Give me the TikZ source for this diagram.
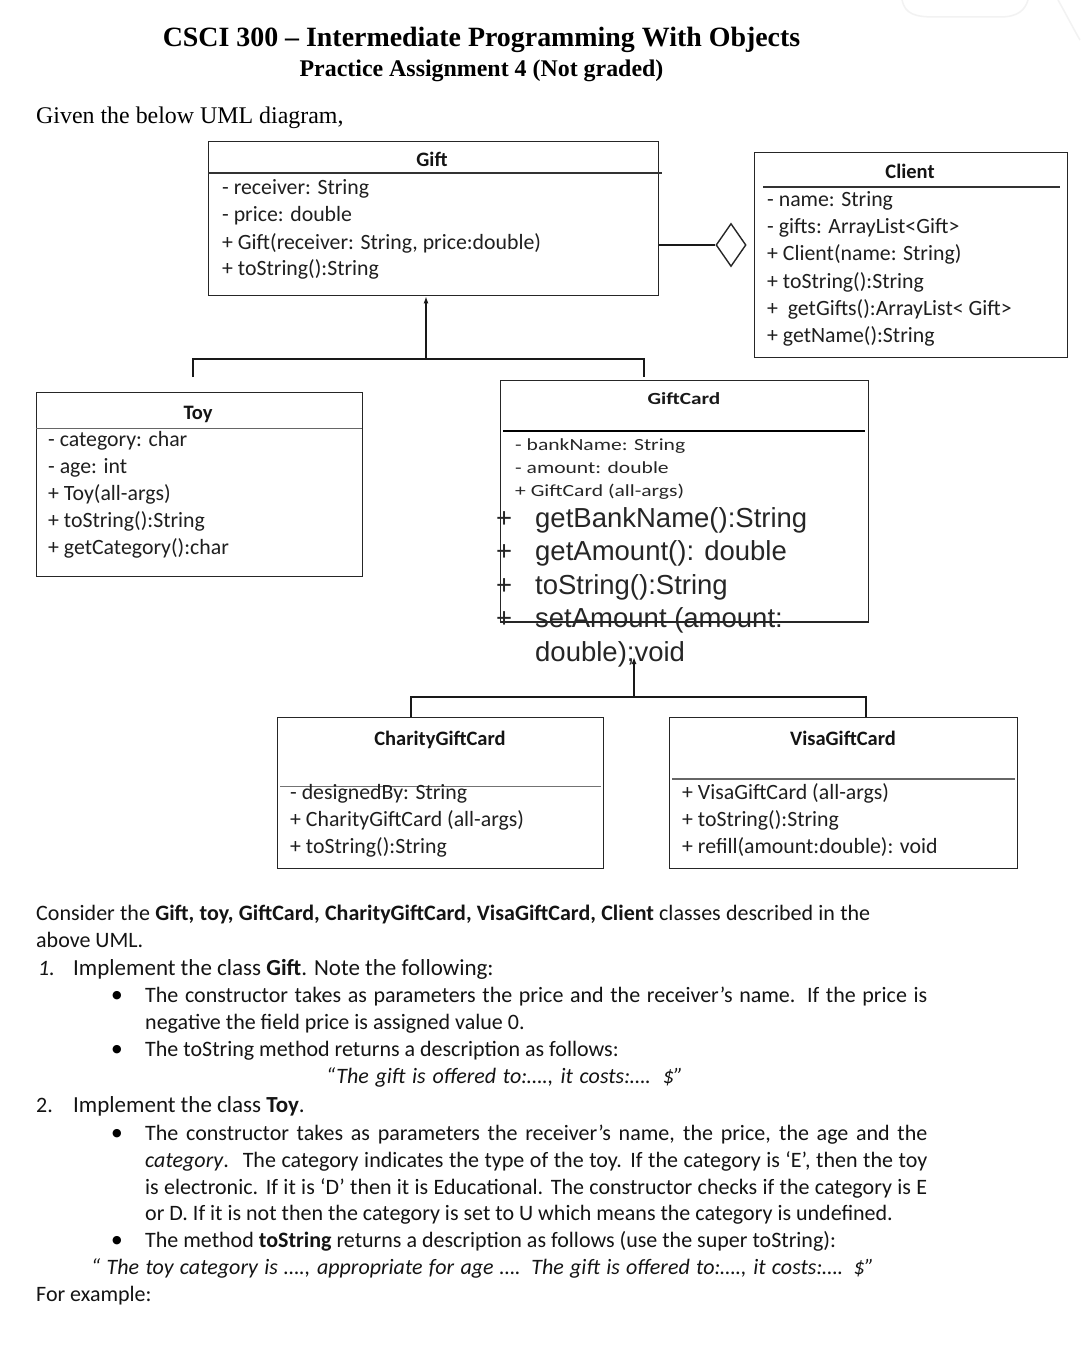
\documentclass[tikz,border=0pt]{standalone}
\usepackage{fontspec}
\setmainfont{Carlito}
\newfontfamily\timesf{Liberation Serif}
\newfontfamily\arialf{Liberation Sans}
\newfontfamily\calf{Carlito}
\newfontfamily\dejaf{DejaVu Sans}
\usetikzlibrary{arrows.meta,shapes.geometric}
\begin{document}
\begin{tikzpicture}[x=1pt,y=-1pt,
  umlbox/.style={draw=black!85, line width=1.4pt, inner sep=0pt, anchor=north west},
  sep/.style={draw=black!80, line width=1.1pt},
  conn/.style={draw=black!90, line width=1.5pt},
  inh/.style={draw=black!90, line width=1.5pt, -{Latex[length=7pt,width=5pt]}},
  ut/.style={anchor=base west, inner sep=0pt, text=black!88, font=\calf\fontsize{21.8}{26}\selectfont},
  uh/.style={anchor=base, inner sep=0pt, text=black!92, font=\calf\bfseries\fontsize{20.5}{24}\selectfont},
  us/.style={anchor=base west, inner sep=0pt, text=black!85, font=\calf\fontsize{17}{20}\selectfont},
  ua/.style={anchor=base west, inner sep=0pt, text=black!85, font=\arialf\fontsize{27.5}{32}\selectfont},
  bt/.style={anchor=base west, inner sep=0pt, text=black!92, font=\calf\fontsize{22}{26}\selectfont},
  btl/.style={bt, font=\calf\fontsize{23}{27}\selectfont},
  bul/.style={anchor=center, inner sep=0pt, font=\dejaf\fontsize{11}{12}\selectfont}
]
\fill[white] (0,0) rectangle (1080,1364);
\useasboundingbox (0,0) rectangle (1080,1364);
% faint corner artefact
\draw[black!5, line width=1.5pt] (902,0) .. controls (905,14) and (915,17) .. (935,17) -- (1000,17) .. controls (1018,17) and (1025,10) .. (1028,0);
\draw[black!5, line width=1.5pt] (1058,0) .. controls (1066,14) and (1073,28) .. (1080,40);

% headings
\node[anchor=base, inner sep=0pt, font=\timesf\bfseries\fontsize{27.9}{32}\selectfont] (t1) at (481.5,47) {CSCI 300 – Intermediate Programming With Objects};
\node[anchor=base, inner sep=0pt, font=\timesf\bfseries\fontsize{23.9}{28}\selectfont] (t2) at (481.5,77) {Practice Assignment 4 (Not graded)};
\node[anchor=base west, inner sep=0pt, font=\timesf\fontsize{23.9}{28}\selectfont] (t3) at (36,124) {Given the below UML diagram,};

% Gift
\node[umlbox, minimum width=450pt, minimum height=154pt] (gift) at (208,141) {};
\draw[sep] (208,173) -- (662,173);
\node[uh] (giftT) at (432,167) {Gift};
\node[ut] (g1) at (222,195) {- receiver: String};
\node[ut] (g2) at (222,222) {- price: double};
\node[ut] (g3) at (222,249) {+ Gift(receiver: String, price:double)};
\node[ut] (g4) at (222,276) {+ toString():String};

% Client
\node[umlbox, minimum width=313pt, minimum height=205pt] (client) at (754,152) {};
\draw[sep] (763,187) -- (1060,187);
\node[uh] (clientT) at (910,179) {Client};
\node[ut] (c1) at (767,207) {- name: String};
\node[ut] (c2) at (767,234) {- gifts: ArrayList<Gift>};
\node[ut] (c3) at (767,261) {+ Client(name: String)};
\node[ut] (c4) at (767,288) {+ toString():String};
\node[ut] (c5) at (767,315) {+\hspace{0.45em}getGifts():ArrayList< Gift>};
\node[ut] (c6) at (767,342) {+ getName():String};

% aggregation
\node[diamond, draw=black!85, line width=1.4pt, fill=white, minimum width=30pt, minimum height=43pt, inner sep=0pt] (dia) at (731,245) {};
\draw[conn, line width=1.3pt] (dia.west -| gift.east) -- (dia.west);

% Toy
\node[umlbox, minimum width=326pt, minimum height=184pt] (toy) at (36,392) {};
\draw[sep, draw=black!60, line width=0.9pt] (36,428) -- (362,428);
\node[uh] (toyT) at (198,419) {Toy};
\node[ut] (y1) at (48,446) {- category: char};
\node[ut] (y2) at (48,473) {- age: int};
\node[ut] (y3) at (48,500) {+ Toy(all-args)};
\node[ut] (y4) at (48,527) {+ toString():String};
\node[ut] (y5) at (48,554) {+ getCategory():char};

% GiftCard
\node[umlbox, minimum width=368pt, minimum height=242pt] (gc) at (500,380) {};
\draw[sep, draw=black, line width=2.4pt] (503,431) -- (865,431);
\node[anchor=base, inner sep=0pt, text=black!90, font=\calf\bfseries\fontsize{17}{20}\selectfont] (gcT) at (684,404) {\scalebox{1.25}[1]{GiftCard}};
\node[us] (k1) at (515,450.5) {\scalebox{1.27}[1]{- bankName: String}};
\node[us] (k2) at (515,473.5) {\scalebox{1.27}[1]{- amount: double}};
\node[us] (k3) at (515,496.5) {\scalebox{1.27}[1]{+ GiftCard (all-args)}};
\node[ua] (p1) at (496,527) {+};
\node[ua] (p2) at (496,560.5) {+};
\node[ua] (p3) at (496,594) {+};
\node[ua] (p4) at (496,627.5) {+};
\node[ua] (m1) at (535,527) {getBankName():String};
\node[ua] (m2) at (535,560.5) {getAmount(): double};
\node[ua] (m3) at (535,594) {toString():String};
\node[ua] (m4) at (535,627.5) {setAmount (amount:};
\node[ua] (m5) at (535,661) {double);void};
\draw[draw=black!85, line width=1.4pt] (500,622) -- (868,622);

% Charity
\node[umlbox, minimum width=326pt, minimum height=151pt] (cgc) at (277,717) {};
\draw[sep, draw=black!55, line width=0.9pt] (280,786) -- (601,786);
\node[uh] (cgcT) at (440,745) {CharityGiftCard};
\node[ut] (h1) at (290,799) {- designedBy: String};
\node[ut] (h2) at (290,826) {+ CharityGiftCard (all-args)};
\node[ut] (h3) at (290,853) {+ toString():String};

% Visa
\node[umlbox, minimum width=348pt, minimum height=151pt] (vgc) at (669,717) {};
\draw[sep, draw=black!60, line width=1.6pt] (672,779) -- (1015,779);
\node[uh] (vgcT) at (843,745) {VisaGiftCard};
\node[ut] (v1) at (682,799) {+ VisaGiftCard (all-args)};
\node[ut] (v2) at (682,826) {+ toString():String};
\node[ut] (v3) at (682,853) {+ refill(amount:double): void};

% inheritance: Gift
\coordinate (ja) at (426,359);
\coordinate (la) at (193,359);
\coordinate (ra) at (644,359);
\coordinate (la2) at (193,377);
\coordinate (ra2) at (644,377);
\draw[conn] (la2) -- (la) -- (ra) -- (ra2);
\draw[inh] (ja) -- (ja |- gift.south);

% inheritance: GiftCard
\coordinate (jb) at (634,697);
\coordinate (jbtip) at (634,657);
\coordinate (lb) at (411,697);
\coordinate (rb) at (866,697);
\draw[conn] (lb |- cgc.north) -- (lb) -- (rb) -- (rb |- vgc.north);
\draw[inh, line width=1.3pt] (jb) -- (jbtip);

% body text
\node[bt] (b1) at (36,920) {\makebox[834pt][s]{Consider the \textbf{Gift, toy, GiftCard, CharityGiftCard, VisaGiftCard, Client} classes described in the}};
\node[bt] (b2) at (36,947) {above UML.};
\node[bt] (n1) at (38,975) {\itshape 1.};
\node[btl] (b3) at (73,975) {Implement the class \textbf{Gift}. Note the following:};
\node[bul] (u1) at (117,996) {●};
\node[bt] (b4) at (145,1002) {\makebox[782pt][s]{The constructor takes as parameters the price and the receiver’s name. If the price is}};
\node[bt] (b5) at (145,1029) {negative the field price is assigned value 0.};
\node[bul] (u2) at (117,1050) {●};
\node[bt] (b6) at (145,1056) {The toString method returns a description as follows:};
\node[bt] (b7) at (326,1083) {\itshape\makebox[357pt][s]{“The gift is offered to:…., it costs:…. \$”}};
\node[bt] (n2) at (36,1112) {2.};
\node[btl] (b8) at (73,1112) {Implement the class \textbf{Toy}.};
\node[bul] (u3) at (117,1134) {●};
\node[bt] (b9) at (145,1140) {\makebox[782pt][s]{The constructor takes as parameters the receiver’s name, the price, the age and the}};
\node[bt] (b10) at (145,1167) {\makebox[782pt][s]{\textit{category}. \ The category indicates the type of the toy. If the category is ‘E’, then the toy}};
\node[bt] (b11) at (145,1194) {\makebox[782pt][s]{is electronic. If it is ‘D’ then it is Educational. The constructor checks if the category is E}};
\node[bt] (b12) at (145,1220) {or D. If it is not then the category is set to U which means the category is undefined.};
\node[bul] (u4) at (117,1241) {●};
\node[bt] (b13) at (145,1247) {The method \textbf{toString} returns a description as follows (use the super toString):};
\node[bt] (b14) at (91,1274) {\itshape\makebox[783pt][s]{“ The toy category is …., appropriate for age …. The gift is offered to:…., it costs:…. \$”}};
\node[bt] (b15) at (36,1301) {For example:};
\end{tikzpicture}
\end{document}
